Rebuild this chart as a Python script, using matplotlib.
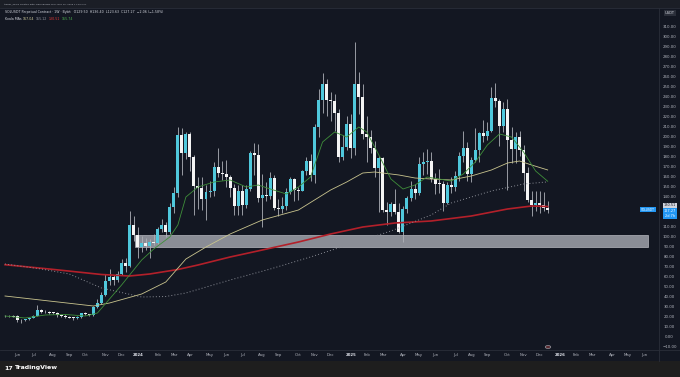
import matplotlib
matplotlib.use('Agg')
import matplotlib.pyplot as plt
import matplotlib.dates as mdates
from matplotlib.patches import Rectangle, Circle
import pandas as pd
import numpy as np

W, H = 680, 377

# weekly SOLUSDT candles
weeks = pd.date_range('2023-05-15', periods=136, freq='W-MON')
opens = [21.0, 20.6, 21.3, 21.5, 17.2, 16.6, 17.6, 19.5, 21.4, 27.5,
         25.5, 24.6, 24.2, 23.9, 21.8, 21.5, 20.3, 19.4, 18.9, 19.6,
         23.6, 22.8, 21.9, 29.8, 34.5, 42.5, 56.5, 60.5, 57.5, 63.5,
         74.0, 71.5, 112.5, 102.0, 90.5, 94.0, 91.0, 95.5, 94.0, 108.0,
         112.0, 105.0, 130.5, 144.5, 202.0, 184.5, 203.5, 180.0, 151.0, 149.0,
         138.0, 145.0, 146.5, 170.0, 164.5, 163.5, 160.0, 149.5, 131.0, 146.5,
         132.0, 148.5, 184.0, 182.0, 139.0, 142.5, 141.0, 159.0, 129.5, 128.5,
         131.0, 145.0, 158.0, 147.5, 146.5, 166.5, 176.5, 162.0, 210.0, 237.0,
         253.0, 237.0, 236.0, 224.0, 180.0, 190.0, 213.0, 189.5, 253.0, 240.0,
         203.0, 200.5, 189.0, 169.0, 179.0, 127.0, 125.5, 133.0, 125.0, 105.5,
         128.0, 139.5, 148.0, 144.5, 173.5, 175.0, 176.5, 158.0, 153.5, 153.0,
         134.0, 152.5, 150.5, 161.0, 181.0, 189.0, 163.0, 177.0, 187.0, 204.0,
         201.0, 206.0, 239.0, 236.0, 211.0, 228.0, 197.0, 188.0, 200.0, 187.0,
         164.0, 137.0, 132.0, 134.0, 132.5, 129.5]
highs = [21.9, 21.8, 22.0, 22.3, 17.8, 18.0, 19.8, 22.5, 32.0, 28.5,
         26.8, 25.6, 25.2, 24.6, 22.5, 22.6, 20.8, 19.8, 20.6, 24.2,
         24.8, 23.2, 30.8, 38.5, 45.0, 63.0, 68.0, 62.5, 66.0, 78.0,
         79.0, 126.0, 121.0, 110.0, 101.5, 99.0, 98.0, 103.0, 110.0, 118.0,
         115.5, 134.0, 150.0, 210.0, 209.5, 205.5, 205.0, 182.5, 160.0, 160.5,
         152.0, 156.0, 175.0, 189.0, 176.0, 177.0, 162.0, 153.0, 152.0, 152.5,
         152.0, 186.0, 194.0, 193.0, 163.0, 155.5, 165.0, 162.0, 138.5, 140.0,
         149.0, 160.5, 159.0, 150.5, 167.5, 180.0, 183.5, 213.0, 248.0, 264.5,
         258.0, 245.0, 243.0, 228.0, 202.0, 221.0, 223.0, 295.0, 265.0, 253.0,
         221.0, 207.0, 196.0, 181.0, 180.5, 135.5, 135.0, 148.0, 134.0, 131.0,
         141.0, 156.0, 153.0, 180.0, 185.0, 188.0, 185.0, 164.0, 168.0, 156.0,
         155.0, 160.0, 166.0, 185.0, 206.0, 195.0, 180.0, 209.0, 205.0, 217.0,
         215.0, 250.0, 254.0, 238.0, 235.0, 238.0, 210.0, 205.0, 206.0, 192.0,
         170.0, 146.0, 146.0, 146.0, 145.0, 136.4]
lows = [19.9, 19.8, 19.9, 15.0, 14.5, 15.9, 17.0, 19.0, 20.8, 24.5,
        23.8, 22.8, 23.0, 19.8, 19.6, 19.5, 18.6, 17.3, 18.2, 19.2,
        21.8, 20.9, 21.4, 29.0, 33.0, 41.5, 52.0, 52.5, 55.5, 62.5,
        65.5, 70.0, 96.0, 79.5, 85.5, 87.0, 79.5, 92.5, 93.0, 105.0,
        100.5, 103.0, 124.0, 140.0, 162.0, 178.0, 166.0, 122.5, 128.5, 127.5,
        117.0, 140.0, 141.0, 160.0, 157.0, 150.0, 140.0, 122.0, 122.5, 122.0,
        129.0, 146.0, 162.0, 135.0, 110.0, 136.0, 138.0, 127.5, 121.0, 124.5,
        127.0, 143.0, 136.5, 137.0, 146.0, 162.0, 156.0, 154.0, 200.0, 224.0,
        221.0, 216.0, 206.0, 175.0, 177.0, 187.0, 179.0, 182.0, 223.0, 198.0,
        175.0, 184.0, 160.0, 125.0, 125.5, 112.5, 121.0, 123.5, 104.0, 95.5,
        124.5, 136.5, 138.5, 142.0, 162.0, 163.0, 155.0, 143.0, 144.0, 126.0,
        133.0, 144.0, 146.5, 156.0, 175.0, 156.0, 155.0, 175.0, 175.0, 195.0,
        197.0, 205.0, 230.0, 191.0, 205.0, 147.0, 174.0, 174.0, 181.0, 146.0,
        135.0, 121.5, 126.0, 124.0, 126.0, 123.63]
closes = [20.6, 21.3, 20.2, 17.2, 16.6, 17.6, 19.5, 21.4, 27.5, 25.5,
          24.6, 24.2, 23.9, 21.8, 21.5, 20.3, 19.4, 18.9, 19.6, 23.6,
          22.8, 21.9, 29.8, 34.5, 42.5, 56.5, 60.5, 57.5, 63.5, 74.0,
          71.5, 112.5, 102.0, 90.5, 94.0, 91.0, 95.5, 94.0, 108.0, 112.0,
          105.0, 130.5, 144.5, 202.0, 184.5, 203.5, 180.0, 151.0, 149.0, 138.0,
          145.0, 146.5, 170.0, 164.5, 163.5, 160.0, 149.5, 131.0, 146.5, 132.0,
          148.5, 184.0, 182.0, 139.0, 142.5, 141.0, 159.0, 129.5, 128.5, 131.0,
          145.0, 158.0, 147.5, 146.5, 166.5, 176.5, 162.0, 210.0, 237.0, 253.0,
          237.0, 236.0, 224.0, 180.0, 190.0, 213.0, 189.5, 253.0, 240.0, 203.0,
          200.5, 189.0, 169.0, 179.0, 127.0, 125.5, 133.0, 125.0, 105.5, 128.0,
          139.5, 148.0, 144.5, 173.5, 175.0, 176.5, 158.0, 153.5, 153.0, 134.0,
          152.5, 150.5, 161.0, 181.0, 189.0, 163.0, 177.0, 187.0, 204.0, 201.0,
          206.0, 239.0, 236.0, 211.0, 228.0, 197.0, 188.0, 200.0, 187.0, 164.0,
          137.0, 132.0, 134.0, 132.5, 129.5, 127.27]

# moving averages (week index -> value)
green_idx = [0, 5, 10, 15, 20, 23, 26, 29, 31, 34, 37, 41, 43, 45, 48, 52, 56, 60, 63, 66,
             70, 73, 76, 79, 82, 85, 88, 90, 93, 96, 99, 102, 105, 108, 111, 114, 117,
             120, 123, 126, 129, 132, 135]
green_val = [21, 19, 22, 22.5, 21, 24, 38, 52, 62, 77, 88, 100, 112, 140, 150, 155, 157, 150,
             152, 148, 143, 150, 160, 195, 205, 200, 210, 205, 182, 158, 148, 152, 160, 158,
             156, 163, 175, 192, 203, 200, 185, 166, 155.74]
yellow_idx = [0, 11, 22, 26, 34, 40, 45, 50, 56, 64, 73, 81, 85, 89, 92, 98, 102, 106,
              111, 116, 121, 125, 128, 131, 135]
yellow_val = [41, 36, 31, 34, 43, 55, 78, 90, 103, 117, 127, 147, 155, 164, 165, 162, 159,
              158, 157, 161, 167, 174, 176, 172, 167.04]
red_idx = [0, 11, 24, 31, 36, 43, 48, 56, 64, 73, 81, 89, 97, 106, 116, 125, 131, 135]
red_val = [72.3, 68, 62.5, 61, 63, 67.5, 72, 80, 87, 95, 103, 110, 114, 116, 121, 128,
           131, 130.51]
dot_idx = [0, 9, 16, 24, 34, 40, 45, 56, 66, 76, 86, 96, 106, 111, 121, 129, 135]
dot_val = [73, 68, 63, 49, 40, 40.5, 44, 57, 68, 80, 93, 106, 122, 134, 146, 153, 155.12]

# support zone
zone_start, zone_end = '2023-12-28', '2026-06-08'
zone_low, zone_high = 90, 102

# 120 and 130 sit under the last-price tags
price_ticks = [p for p in range(-10, 320, 10) if p not in (120, 130)]

BG = '#131722'
UP = '#4fc8dc'
DOWN = '#f4f4f4'
WICK = '#aeb1b8'
TXT = '#b2b5be'


def fx(x):
    return x / W


def fy(y):
    return 1 - y / H


fig = plt.figure(figsize=(W / 100, H / 100), dpi=100, facecolor=BG)
top_px, bot_px, right_px = 8, 350, 659
ax = fig.add_axes([0, fy(bot_px), fx(right_px), (bot_px - top_px) / H])
ax.set_facecolor(BG)
for s in ax.spines.values():
    s.set_visible(False)
ax.set_xticks([])
ax.set_yticks([])

xd = mdates.date2num(weeks.to_pydatetime())
base = xd[0]
ax.set_xlim(base - 7 * 1.244, base + 7 * 162.69)
ax.set_ylim(337 - bot_px, 337 - top_px)

z0 = mdates.date2num(pd.Timestamp(zone_start).to_pydatetime())
z1 = mdates.date2num(pd.Timestamp(zone_end).to_pydatetime())
ax.add_patch(Rectangle((z0, zone_low), z1 - z0, zone_high - zone_low,
                       facecolor='#a0a3ab', edgecolor='#c8cad0', lw=0.5, alpha=0.85, zorder=1))

o = np.array(opens)
c = np.array(closes)
up = c >= o
ax.vlines(xd, lows, highs, color=WICK, lw=0.6, zorder=2)
body_lo = np.minimum(o, c)
body_h = np.maximum(np.abs(c - o), 0.8)
ax.bar(xd, body_h, bottom=body_lo, width=5.2,
       color=np.where(up, UP, DOWN), linewidth=0, zorder=3)

ax.plot(xd[red_idx], red_val, color='#b3202a', lw=1.2, zorder=4)
ax.plot(xd[dot_idx], dot_val, color='#8a8d96', lw=0.7, ls=(0, (1, 2.2)), zorder=4)
ax.plot(xd[yellow_idx], yellow_val, color='#c9c48e', lw=0.6, zorder=4)
ax.plot(xd[green_idx], green_val, color='#3f8f3a', lw=0.6, zorder=4)

# price scale
yt = ax.get_yaxis_transform()
for p in price_ticks:
    ax.text(1 + 10.5 / right_px, p, f'{p:.2f}'.replace('-', '\u2212'), transform=yt,
            ha='center', va='center', fontsize=2.8, color=TXT, clip_on=False)

# time scale
xt = ax.get_xaxis_transform()
months = pd.date_range('2023-06-01', '2026-06-01', freq='MS')
for m in months:
    first_mon = m + pd.offsets.Week(weekday=0) if m.weekday() != 0 else m
    xm = mdates.date2num(first_mon.to_pydatetime())
    if m.month == 1:
        lab, col, wt = str(m.year), '#e0e3eb', 'bold'
    else:
        lab, col, wt = m.strftime('%b'), TXT, 'normal'
    ax.text(xm, -5 / (bot_px - top_px), lab, transform=xt, ha='center', va='center',
            fontsize=2.8, color=col, fontweight=wt, clip_on=False)

# frame lines
fig.add_artist(plt.Line2D([0, 1], [fy(bot_px), fy(bot_px)], color='#2a2e39', lw=0.6))
fig.add_artist(plt.Line2D([fx(right_px), fx(right_px)], [fy(361), fy(top_px)], color='#2a2e39', lw=0.6))
fig.add_artist(plt.Line2D([0, 1], [fy(top_px), fy(top_px)], color='#2a2e39', lw=0.6))

# header strip and footer
fig.add_artist(Rectangle((0, fy(top_px)), 1, top_px / H, transform=fig.transFigure,
                         facecolor='#1b1e26', edgecolor='none', zorder=0))
fig.add_artist(Rectangle((0, 0), 1, fy(361), transform=fig.transFigure,
                         facecolor='#1e1e1e', edgecolor='none', zorder=0))
fig.text(fx(4), fy(4), 'trader_koala created with TradingView.com, Dec 16, 2025 17:49 UTC',
         fontsize=1.7, color=TXT, va='center')
fig.text(fx(5), fy(12.5),
         'SOLUSDT Perpetual Contract \u00b7 1W \u00b7 Bybit   O129.50  H136.40  L123.63  C127.27  \u22122.06 (\u22121.58%)',
         fontsize=2.3, color='#d1d4dc', va='center')
fig.text(fx(5), fy(19), 'Koala MAs', fontsize=2.3, color='#d1d4dc', va='center')
for xpos, val, col in [(23, '167.04', '#d9d4a0'), (36, '155.12', '#9598a1'),
                       (49, '130.51', '#e53935'), (62, '155.74', '#4caf50')]:
    fig.text(fx(xpos), fy(19), val, fontsize=2.3, color=col, va='center')

fig.text(fx(670), fy(13), 'USDT', fontsize=2.6, color='#d1d4dc', va='center', ha='center',
         bbox=dict(boxstyle='square,pad=0.3', fc='#2a2e39', ec='none'))

# last price tags
ax.text(1 + 11 / right_px, 131.5, '130.51', transform=yt, ha='center', va='center',
        fontsize=2.5, color='#131722', clip_on=False,
        bbox=dict(boxstyle='square,pad=0.2', fc='#d1d4dc', ec='none'))
ax.text(1 + 11 / right_px, 123.5, '127.27\n2d 7h', transform=yt, ha='center', va='center',
        fontsize=2.5, color='white', clip_on=False, linespacing=1.1,
        bbox=dict(boxstyle='square,pad=0.25', fc='#2196f3', ec='none'))
ax.text(648 / right_px, 127.27, 'SOLUSDT', transform=yt, ha='center', va='center',
        fontsize=2.2, color='white', zorder=6,
        bbox=dict(boxstyle='square,pad=0.25', fc='#2196f3', ec='none'))

# event marker
fig.add_artist(Circle((fx(548), fy(347)), 0.004, transform=fig.transFigure,
                      facecolor='#5a2a30', edgecolor='#9598a1', lw=0.5))

# footer logo
fig.text(fx(4), fy(368), '17', fontsize=4.5, color='white', fontweight='bold', va='center')
fig.text(fx(14), fy(368), 'TradingView', fontsize=4.5, color='white', fontweight='bold', va='center')

fig.savefig('out.png', dpi=100, facecolor=BG)
